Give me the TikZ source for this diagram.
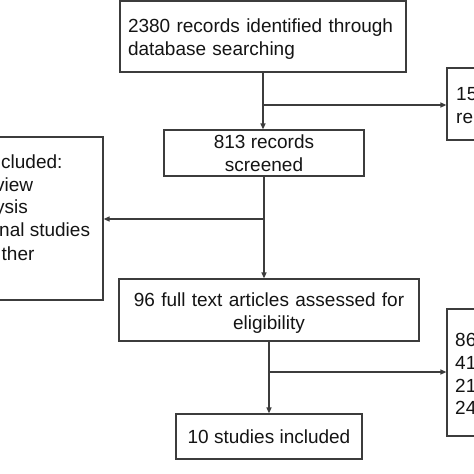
\documentclass[tikz,border=0pt]{standalone}
\usepackage{fontspec}
\setmainfont{Liberation Sans}
\usetikzlibrary{arrows.meta}
\definecolor{ln}{HTML}{3C3C3C}
\definecolor{tx}{HTML}{141414}
\begin{document}
\begin{tikzpicture}[x=1pt,y=-1pt,
  box/.style={draw=ln, line width=1.2pt, inner sep=0pt, text=tx, font=\fontsize{19}{23}\selectfont},
  arr/.style={draw=ln, line width=1.2pt, -{Triangle[length=6pt,width=5pt]}},
  lbl/.style={text=tx, inner sep=0pt, anchor=base west, font=\fontsize{19}{23}\selectfont}]
\useasboundingbox (0,0) rectangle (474,474);
\clip (0,0) rectangle (474,474);
\fill[white] (0,0) rectangle (474,474);
% main boxes
\node[box, minimum width=286pt, minimum height=71pt, text width=270pt, text height=19pt, align=left] (b1) at (263,36.5) {2380 records identified through\\database searching};
\node[box, minimum width=200pt, minimum height=46pt, align=center] (b2) at (264,153) {813 records\\screened};
\node[box, minimum width=300pt, minimum height=62pt, text width=290pt, text height=19pt, align=center] (b3) at (269,310) {96 full text articles assessed for\\eligibility};
\node[box, minimum width=186pt, minimum height=45pt, align=center] (b4) at (269,436.5) {10 studies included};
% side boxes (cut by the picture edge)
\node[box, minimum width=133pt, minimum height=163pt] (lb) at (36.5,218.5) {};
\node[box, minimum width=53pt, minimum height=72pt] (rt) at (473.5,104) {};
\node[box, minimum width=53pt, minimum height=127pt] (rb) at (473.5,372.5) {};
% side texts
\node[lbl] (l1) at (1,168) {cluded:};
\node[lbl] (l2) at (-5,191) {view};
\node[lbl] (l3) at (-5,213) {ysis};
\node[lbl] (l4) at (-1,236) {nal studies};
\node[lbl] (l5) at (1.5,260) {ther};
\node[lbl] (r1) at (456,100) {15};
\node[lbl] (r2) at (456,123) {re};
\node[lbl] (r3) at (455,346) {86};
\node[lbl] (r4) at (455,369) {41};
\node[lbl] (r5) at (455,392) {21};
\node[lbl] (r6) at (455,414) {24};
% connectors
\coordinate (j1) at (263,105);
\coordinate (j2) at (264,219);
\coordinate (j3) at (269,372);
\draw[arr] (b1.south) -- (b1.south |- b2.north);
\draw[arr] (j1) -- (j1 -| rt.west);
\draw[arr] (b2.south) -- (b2.south |- b3.north);
\draw[arr] (j2) -- (j2 -| lb.east);
\draw[arr] (b3.south) -- (b4.north);
\draw[arr] (j3) -- (j3 -| rb.west);
\end{tikzpicture}
\end{document}
